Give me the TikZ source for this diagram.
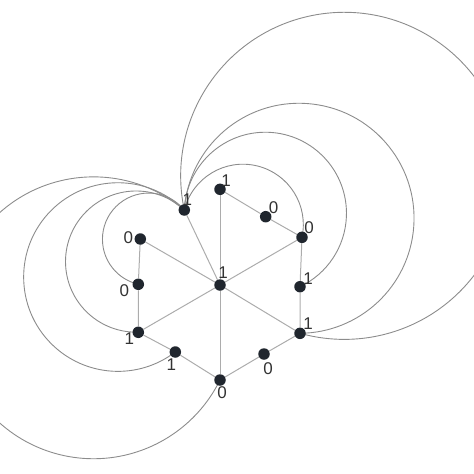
\documentclass[tikz,border=0pt]{standalone}
\usepackage{fontspec}
\setmainfont{Liberation Sans}
\usetikzlibrary{calc, backgrounds}
\definecolor{dotgray}{RGB}{32,38,46}
\definecolor{wiregray}{RGB}{172,172,172}
\definecolor{swinggray}{RGB}{140,140,140}
\definecolor{textgray}{RGB}{51,51,51}
\tikzset{
  dot/.style={circle, fill=dotgray, inner sep=0pt, minimum size=11.5pt},
  lbl/.style={text=textgray, font=\fontsize{17}{20}\selectfont, inner sep=0pt},
  wire/.style={draw=wiregray, line width=1pt},
  swingline/.style={draw=swinggray, line width=0.9pt}
}
\newcommand\bit[6]{\node[dot] (#1) at (#2,-#3) {};\node[lbl] (#1t) at ([shift={(#4,#5)}]#1) {#6};}
\newcommand\swing[3]{\draw[swingline] let \p0=($(P)!0.5!(#1)!#2pt!90:(#1)$), \p1=($(P)-(\p0)$), \p2=($(#1)-(\p0)$),
  \n1={atan2(\y1,\x1)}, \n2={atan2(\y2,\x2)}, \n3={veclen(\x1,\y1)},
  \n4={\n2+(#3)*360*(((#3)*(\n2-(\n1)))<0)} in (P.center) arc[start angle=\n1, end angle=\n4, radius=\n3];}

\begin{document}
\begin{tikzpicture}[x=1pt, y=1pt]
\useasboundingbox (0,0) rectangle (474,-474);
\bit{C}{220}{285}{3}{12}{1}
\bit{T}{220}{189.3}{6}{9}{1}
\bit{Ma}{265.7}{216.7}{8}{9}{0}
\bit{TR}{302}{237.3}{7}{10}{0}
\bit{Mb}{300}{286.7}{8}{8}{1}
\bit{BR}{300}{333.3}{8}{10}{1}
\bit{Mc}{264}{354}{4}{-15}{0}
\bit{B}{220}{380}{2}{-13}{0}
\bit{Md}{175.3}{352}{-4}{-13}{1}
\bit{BL}{138.3}{332.3}{-9}{-6}{1}
\bit{Me}{138.3}{284.3}{-14}{-6}{0}
\bit{TL}{140.3}{239}{-12}{1}{0}
\bit{P}{184.3}{210}{3}{10}{1}

\begin{scope}[on background layer]
\clip (0,0) rectangle (474,-474);
\foreach \v in {T,TR,BR,B,BL,TL,P}
  \draw[wire] (C) -- (\v);
\draw[wire] (T) -- (Ma) -- (TR) -- (Mb) -- (BR) -- (Mc) -- (B) -- (Md) -- (BL) -- (Me) -- (TL);
\swing{TR}{-1}{-1}
\swing{Mb}{42}{-1}
\swing{BR}{78}{-1}
\swing{BR}{140}{-1}
\swing{Me}{-15}{1}
\swing{BL}{-27}{1}
\swing{Md}{-62}{1}
\swing{B}{-111}{1}
\end{scope}
\end{tikzpicture}
\end{document}
